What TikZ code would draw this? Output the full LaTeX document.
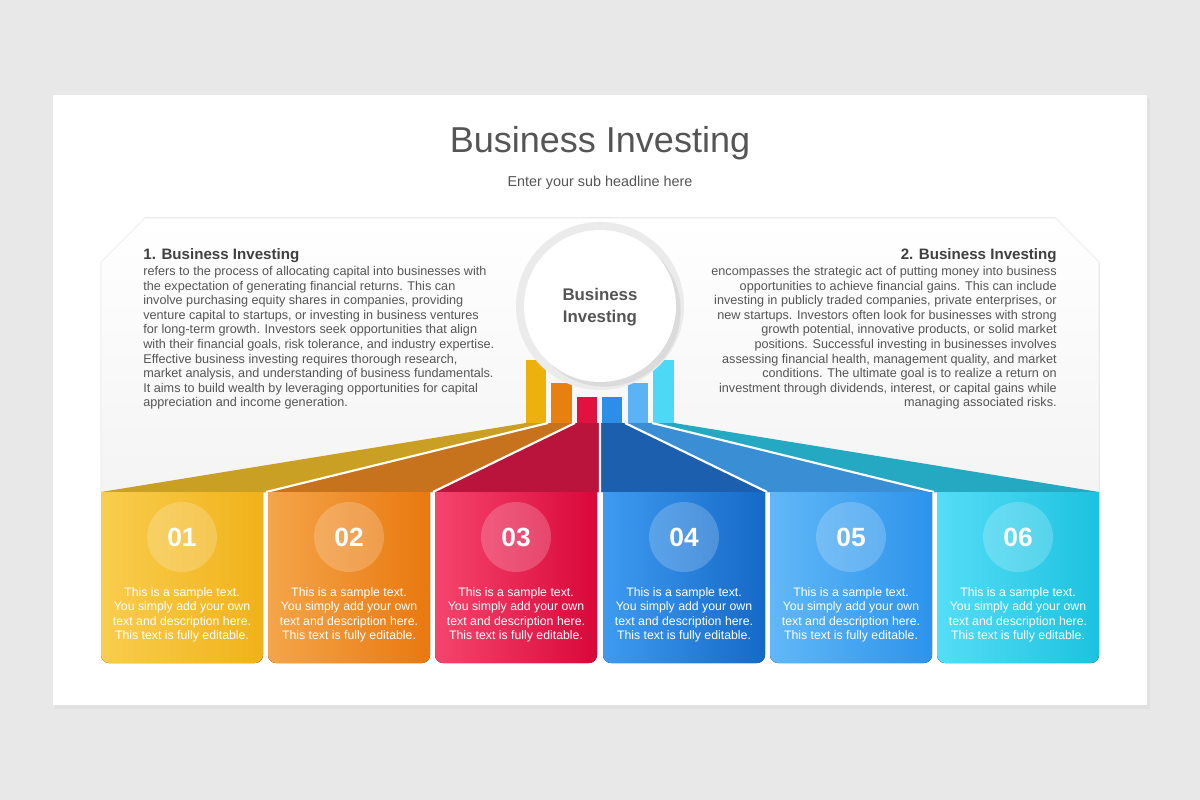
\documentclass[tikz,border=0pt]{standalone}
\usepackage{fontspec}
\setmainfont{Liberation Sans}
\usetikzlibrary{shadows}
\definecolor{bg}{HTML}{E9E8E9}
\definecolor{tx}{HTML}{555555}
\definecolor{panel}{HTML}{F4F4F4}
\tikzset{
 body/.style={text=tx,font=\fontsize{7.2}{8.3}\selectfont,inner sep=0pt},
 boxtext/.style={text=white,font=\fontsize{7}{8.2}\selectfont,align=center,inner sep=0pt},
 num/.style={text=white,font=\bfseries\fontsize{15}{15}\selectfont},
}
\begin{document}
\begin{tikzpicture}[x=0.02cm,y=-0.02cm]
\useasboundingbox (0,0) rectangle (1200,800);
\fill[bg] (0,0) rectangle (1200,800);
\fill[black!12] (55,98) rectangle (1150,709);
\fill[white] (53,95) rectangle (1147,705);
\node[text=tx,font=\fontsize{20.5}{22}\selectfont] (title) at (600,143) {Business Investing};
\node[text=tx,font=\fontsize{8.2}{9}\selectfont] (sub) at (600,183) {Enter your sub headline here};
% panel
\fill[top color=white,bottom color=panel,draw=black!6,line width=0.6pt] (101,492) -- (101,262) -- (145,218) -- (1055,218) -- (1099,262) -- (1099,492) -- cycle;
% stems
\foreach \a/\b/\t/\c in {526/546/360/EDB10E,551/572/383/E8800F,577/597/397/E0123F,602/622/397/2D8EE8,628/648/383/5BB2F5,653/674/360/4DD8F5}{
 \definecolor{tmp}{HTML}{\c}\fill[tmp] (\a,\t) rectangle (\b,424);}
% fans
\definecolor{f1}{HTML}{C9A023}\definecolor{f2}{HTML}{C7731E}\definecolor{f3}{HTML}{BA133C}
\definecolor{f4}{HTML}{1B5FAE}\definecolor{f5}{HTML}{3A8FD4}\definecolor{f6}{HTML}{25A9C3}
\fill[f1] (101,492) -- (526,423) -- (548,423) -- (266,492) -- cycle;
\fill[f2] (266,492) -- (548,423) -- (575,423) -- (433,492) -- cycle;
\fill[f3] (433,492) -- (575,423) -- (599,423) -- (599,492) -- cycle;
\fill[f4] (601,492) -- (601,423) -- (625,423) -- (767,492) -- cycle;
\fill[f5] (767,492) -- (625,423) -- (652,423) -- (934,492) -- cycle;
\fill[f6] (934,492) -- (652,423) -- (674,423) -- (1099,492) -- cycle;
\draw[white,line width=1.2pt] (266,492) -- (548,423) (433,492) -- (575,423) (600,492) -- (600,423) (767,492) -- (625,423) (934,492) -- (652,423);
% circle
\fill[black!8] (600,306) circle (84);
\fill[white,drop shadow={opacity=0.15}] (600,306) circle (76);
\node[text=tx,font=\bfseries\fontsize{9.6}{12.5}\selectfont,align=center] (center) at (600,307) {Business\\Investing};
% boxes
\foreach \i/\x/\ca/\cb in {1/101/F9CD4E/F0B21A,2/268/F4A54A/E9780F,3/435/F5456C/D9083A,4/603/3E9BF0/1569C7,5/770/61B8F7/2D93EB,6/937/55DDF6/1CC2E0}{
 \definecolor{ca}{HTML}{\ca}\definecolor{cb}{HTML}{\cb}
 \fill[left color=ca,right color=cb] (\x,492) -- (\x+162,492) {[rounded corners=4.5pt] -- (\x+162,663) -- (\x,663)} -- cycle;
 \fill[white,opacity=0.2] (\x+81,537) circle (35);
 \node[num] (n\i) at (\x+81,537) {0\i};
 \node[boxtext] (t\i) at (\x+81,615) {This is a sample text.\\You simply add your own\\text and description here.\\This text is fully editable.};
}
% texts
\node[anchor=west,text=black!75,font=\bfseries\fontsize{8.6}{10}\selectfont,inner sep=0pt] (h1) at (143,256) {1. Business Investing};
\node[body,anchor=north west,align=left] (b1) at (143,266) { refers to the process of allocating capital into businesses with\\the expectation of generating financial returns. This can\\involve purchasing equity shares in companies, providing\\venture capital to startups, or investing in business ventures\\for long-term growth. Investors seek opportunities that align\\with their financial goals, risk tolerance, and industry expertise.\\Effective business investing requires thorough research,\\market analysis, and understanding of business fundamentals.\\It aims to build wealth by leveraging opportunities for capital\\appreciation and income generation.};
\node[anchor=east,text=black!75,font=\bfseries\fontsize{8.6}{10}\selectfont,inner sep=0pt] (h2) at (1057,256) {2. Business Investing};
\node[body,anchor=north east,align=right] (b2) at (1057,266) {encompasses the strategic act of putting money into business\\opportunities to achieve financial gains. This can include\\investing in publicly traded companies, private enterprises, or\\new startups. Investors often look for businesses with strong\\growth potential, innovative products, or solid market\\positions. Successful investing in businesses involves\\assessing financial health, management quality, and market\\conditions. The ultimate goal is to realize a return on\\investment through dividends, interest, or capital gains while\\managing associated risks.};
\end{tikzpicture}
\end{document}
